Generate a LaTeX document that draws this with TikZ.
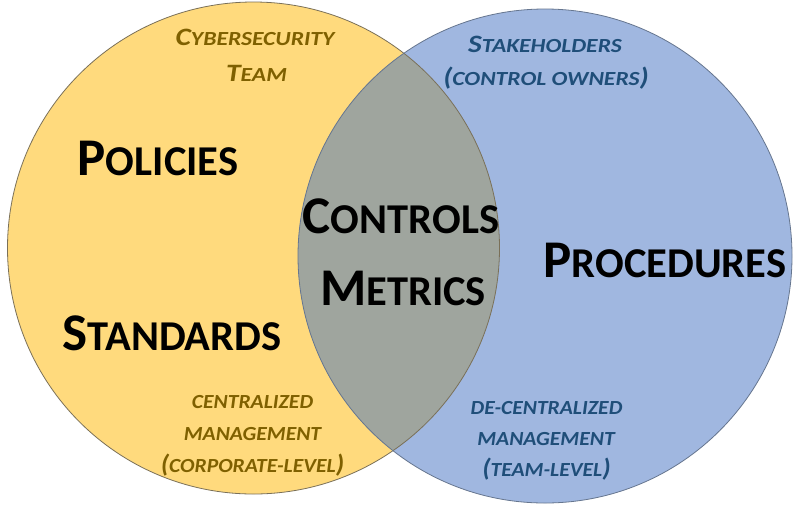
\documentclass[tikz,border=0pt]{standalone}
\usepackage{fontspec}
\usepackage{graphicx}
\setmainfont{Carlito}
\definecolor{yel}{HTML}{FFDA7D}
\definecolor{blu}{HTML}{A0B7E0}
\definecolor{gry}{HTML}{9FA59E}
\definecolor{yeltxt}{HTML}{7F6000}
\definecolor{blutxt}{HTML}{1F4E79}
\definecolor{yelline}{HTML}{7A7058}
\definecolor{bluline}{HTML}{66768F}
\newcommand\BigSC[2]{{\fontsize{53}{53}\selectfont #1\fontsize{42.5}{42.5}\selectfont #2}}
\newcommand\SmSC[2]{\scalebox{1.18}[1]{\fontsize{25}{25}\selectfont #1\fontsize{20}{20}\selectfont #2}}
\newcommand\TopAll[1]{\scalebox{1.18}[1]{\fontsize{20}{20}\selectfont #1}}
\newcommand\SmAll[1]{\scalebox{1.08}[1]{\fontsize{20}{20}\selectfont #1}}
\newcommand\TopPar[1]{\scalebox{1.18}[1]{\fontsize{25}{25}\selectfont #1}}
\newcommand\Par[1]{\scalebox{1.08}[1]{\fontsize{25}{25}\selectfont #1}}
\tikzset{
  bigt/.style={anchor=base, inner sep=0pt, font=\bfseries, text=black},
  ylab/.style={anchor=base, inner sep=0pt, font=\bfseries\itshape, text=yeltxt},
  blab/.style={anchor=base, inner sep=0pt, font=\bfseries\itshape, text=blutxt},
}
\begin{document}
\begin{tikzpicture}[x=1pt,y=-1pt]
\useasboundingbox (0,0) rectangle (802,509);
\fill[white] (0,0) rectangle (802,509);
% circles
\fill[yel] (253.5,248) circle (246);
\fill[blu] (545,256) circle (247);
\begin{scope}
  \clip (253.5,248) circle (246);
  \fill[gry] (545,256) circle (247);
\end{scope}
\draw[yelline, line width=0.8pt] (253.5,248) circle (246);
\draw[bluline, line width=0.8pt] (545,256) circle (247);
% left labels
\node[ylab] (cyb) at (255,45) {\SmSC{C}{YBERSECURITY}};
\node[ylab] (team) at (256.5,81) {\SmSC{T}{EAM}};
\node[bigt] (pol) at (158,175) {\BigSC{P}{OLICIES}};
\node[bigt] (std) at (172,350) {\BigSC{S}{TANDARDS}};
\node[ylab] (cen) at (252.5,408) {\SmAll{CENTRALIZED}};
\node[ylab] (man1) at (252.5,440) {\SmAll{MANAGEMENT}};
\node[ylab] (corp) at (252.5,472) {\Par{(}\SmAll{CORPORATE-LEVEL}\Par{)}};
% center
\node[bigt] (ctl) at (401,233) {\BigSC{C}{ONTROLS}};
\node[bigt] (met) at (403,305) {\BigSC{M}{ETRICS}};
% right labels
\node[blab] (stk) at (545,52) {\SmSC{S}{TAKEHOLDERS}};
\node[blab] (own) at (546,85) {\TopPar{(}\TopAll{CONTROL OWNERS}\TopPar{)}};
\node[bigt] (proc) at (665,277) {\BigSC{P}{ROCEDURES}};
\node[blab] (dec) at (546.5,414) {\SmAll{DE-CENTRALIZED}};
\node[blab] (man2) at (546,445) {\SmAll{MANAGEMENT}};
\node[blab] (tl) at (546.5,476) {\Par{(}\SmAll{TEAM-LEVEL}\Par{)}};
\end{tikzpicture}
\end{document}
